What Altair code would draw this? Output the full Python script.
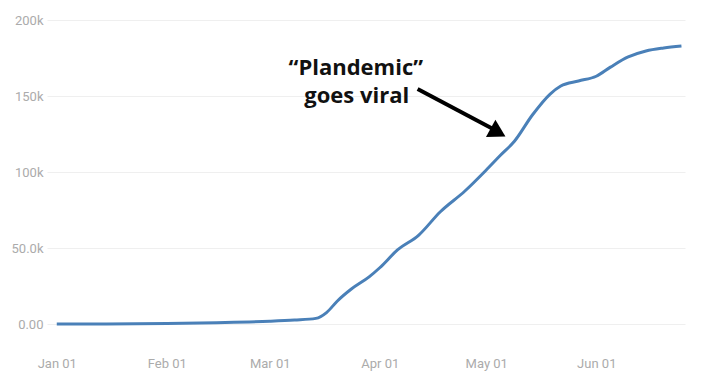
import altair as alt
import pandas as pd

dates = ["2020-01-01", "2020-01-15", "2020-02-01", "2020-02-15", "2020-03-01", "2020-03-08",
         "2020-03-14", "2020-03-17", "2020-03-20", "2020-03-24", "2020-03-29", "2020-04-01", "2020-04-06",
         "2020-04-12", "2020-04-18", "2020-04-25", "2020-05-01", "2020-05-05", "2020-05-09",
         "2020-05-14", "2020-05-19", "2020-05-22", "2020-05-27", "2020-06-01", "2020-06-05",
         "2020-06-10", "2020-06-15", "2020-06-20", "2020-06-25"]
values = [0, 80, 400, 900, 1800, 2600,
          3700, 7500, 15000, 23000, 31000, 37000, 48700,
          58500, 73700, 87500, 101300, 111000, 120400,
          137500, 151300, 156600, 159900, 163000, 169000,
          175700, 179600, 181600, 182900]

label_lines = ["\u201cPlandemic\u201d", "goes viral"]
label_dates = ["2020-03-25T06:00", "2020-03-25T12:00"]
label_values = [168300, 150000]

arrow_dates = ["2020-04-11T16:00", "2020-05-04T00:00"]
arrow_values = [154600, 127000]
head_date = ["2020-05-04T08:00"]
head_value = [126000]

df = pd.DataFrame({"date": pd.to_datetime(dates), "value": values})
lab = pd.DataFrame({"date": pd.to_datetime(label_dates), "value": label_values, "text": label_lines})
arr = pd.DataFrame({"date": pd.to_datetime(arrow_dates), "value": arrow_values})
head = pd.DataFrame({"date": pd.to_datetime(head_date), "value": head_value})

xscale = alt.Scale(domain=[pd.Timestamp("2019-12-29T06:00").isoformat(), pd.Timestamp("2020-06-26T00:00").isoformat()])
yscale = alt.Scale(domain=[0, 200000], nice=False)

xaxis = alt.Axis(format="%b %d", tickCount={"interval": "month", "step": 1}, grid=False, domain=False,
                 ticks=False, tickSize=0, labelPadding=33, labelColor="#ababab", labelFontSize=13,
                 labelFont="Roboto", title=None)
yaxis = alt.Axis(values=[0, 50000, 100000, 150000, 200000], grid=True, gridColor="#efefef",
                 domain=False, ticks=False, tickSize=0, labelPadding=4, labelColor="#ababab",
                 labelFontSize=13, labelFont="Roboto", title=None,
                 labelExpr="datum.value == 0 ? '0.00' : (datum.value == 50000 ? '50.0k' : format(datum.value/1000, 'd') + 'k')")

line = alt.Chart(df).mark_line(color="#4a80b8", strokeWidth=3, interpolate="monotone").encode(
    x=alt.X("date:T", scale=xscale, axis=xaxis),
    y=alt.Y("value:Q", scale=yscale, axis=yaxis),
)

text = alt.Chart(lab).mark_text(fontSize=22, fontWeight="bold", font="Open Sans", color="#111111",
                                  align="center", baseline="middle").encode(
    x=alt.X("date:T", scale=xscale), y=alt.Y("value:Q", scale=yscale), text="text:N")

arrow_line = alt.Chart(arr).mark_line(color="#000000", strokeWidth=4).encode(
    x=alt.X("date:T", scale=xscale), y=alt.Y("value:Q", scale=yscale))

arrow_head = alt.Chart(head).mark_point(shape="triangle-up", angle=119, size=380, filled=True,
                                        color="#000000", opacity=1).encode(
    x=alt.X("date:T", scale=xscale), y=alt.Y("value:Q", scale=yscale))

chart = alt.layer(line, arrow_line, arrow_head, text).properties(
    width=638, height=304,
    background="white",
    padding={"left": 47, "top": 20, "right": 18, "bottom": 51},
    autosize=alt.AutoSizeParams(type="none"),
).configure_view(strokeWidth=0, stroke="transparent")

chart.save("out.html", embed_options={"renderer": "svg", "actions": False})
